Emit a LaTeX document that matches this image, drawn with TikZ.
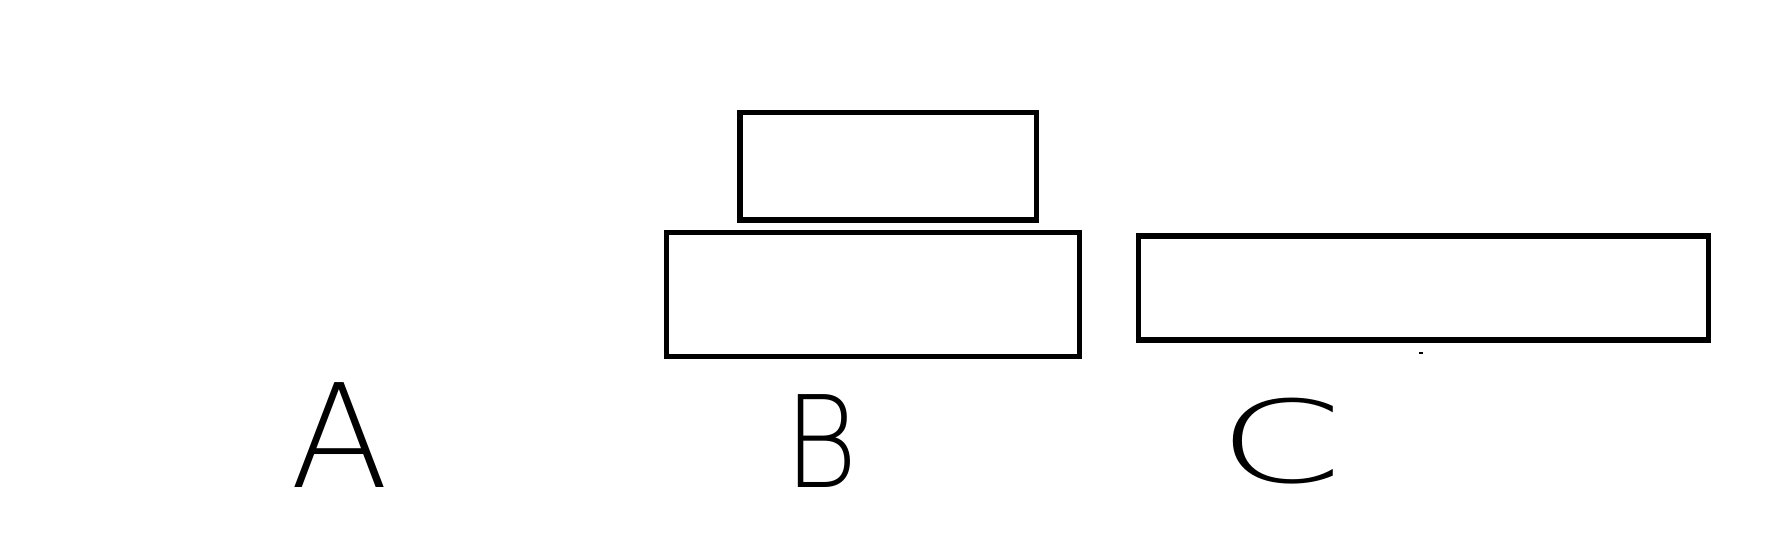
\documentclass[tikz,border=0pt]{standalone}
\usepackage{fontspec}
\usepackage{graphicx}
\usepackage{tikz}
\newfontfamily\letrafont{DejaVu Sans ExtraLight}

\begin{document}
\begin{tikzpicture}[
  caja/.style={draw, line width=1.6pt, inner sep=0pt, outer sep=0pt},
  letra/.style={inner sep=0pt, font=\letrafont\fontsize{39}{39}\selectfont}]
\useasboundingbox (0,0) rectangle (17.86,5.5);
% Cajas
\node[caja, minimum width=2.965cm, minimum height=1.075cm] (b1) at (8.8825,3.8375) {};
\node[caja, minimum width=4.13cm, minimum height=1.24cm] (b2) at (8.73,2.555) {};
\node[caja, minimum width=5.70cm, minimum height=1.044cm] (c1) at (14.235,2.62) {};
\draw[line width=0.5pt] (14.19,1.97) -- (14.23,1.97);

% Letras
\node[letra] (la) at (3.40,1.15) {\scalebox{1.05}[1.05]{A}};
\node[letra] (lb) at (8.21,1.09) {\scalebox{0.82}[0.93]{B}};
\node[letra] (lc) at (12.81,1.09) {\scalebox{1.3}[0.83]{C}};
\end{tikzpicture}
\end{document}
